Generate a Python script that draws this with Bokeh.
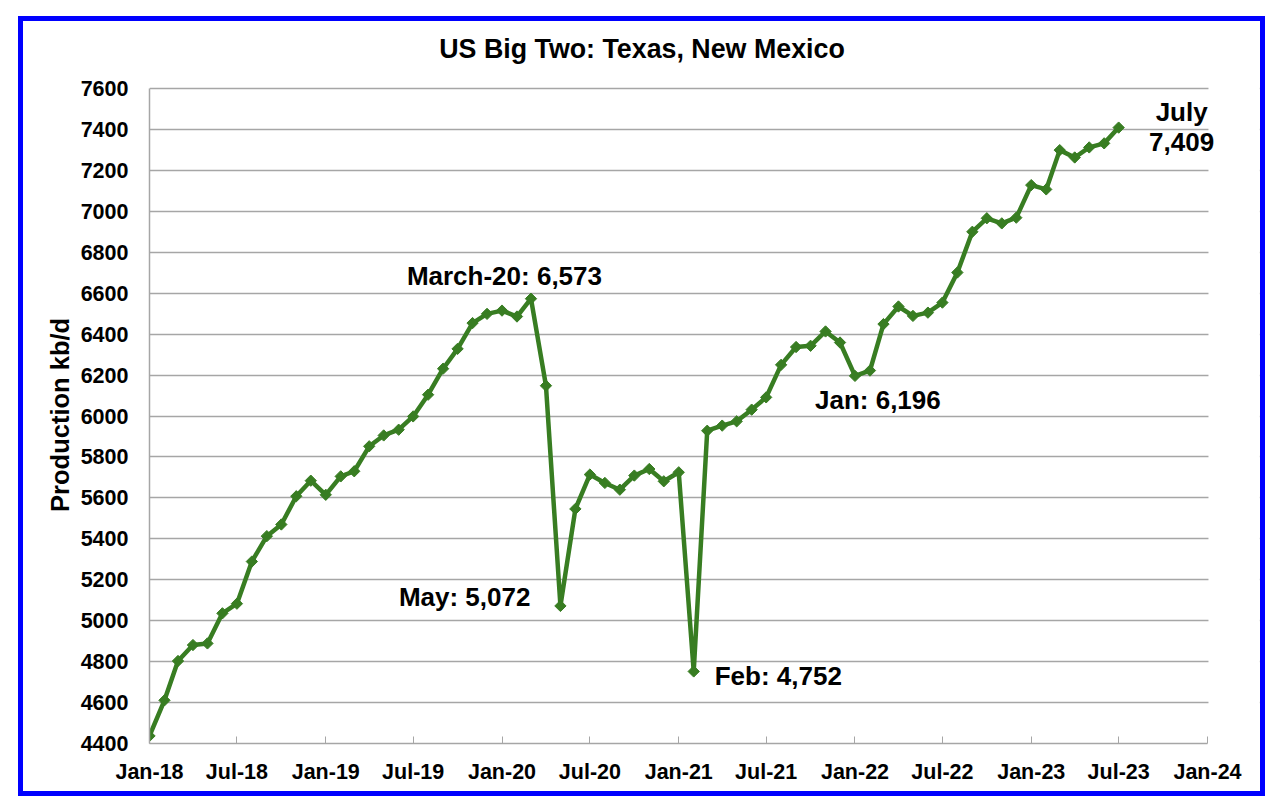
import datetime as dt
import numpy as np
from bokeh.plotting import figure
from bokeh.models import (ColumnDataSource, Label, BoxAnnotation, FixedTicker,
                          DatetimeTickFormatter, Range1d)
from bokeh.embed import file_html
from bokeh.resources import INLINE

# monthly production, Jan-18 .. Jul-23 (kb/d)
production = [
    4437, 4611, 4803, 4881, 4889, 5036, 5083, 5289, 5413, 5470, 5608, 5684,   # 2018
    5615, 5705, 5730, 5852, 5905, 5933, 5998, 6104, 6231, 6328, 6454, 6499,   # 2019
    6515, 6486, 6573, 6148, 5072, 5546, 5714, 5673, 5640, 5709, 5741, 5681,   # 2020
    5725, 4752, 5928, 5953, 5974, 6031, 6091, 6250, 6337, 6343, 6413, 6359,   # 2021
    6196, 6222, 6449, 6535, 6489, 6505, 6554, 6701, 6900, 6966, 6941, 6969,   # 2022
    7128, 7107, 7299, 7263, 7312, 7332, 7409,                                 # 2023
]
months = [dt.datetime(2018 + i // 12, i % 12 + 1, 1) for i in range(len(production))]

tick_labels = ["Jan-18", "Jul-18", "Jan-19", "Jul-19", "Jan-20", "Jul-20", "Jan-21",
               "Jul-21", "Jan-22", "Jul-22", "Jan-23", "Jul-23", "Jan-24"]
y_ticks = list(range(4400, 7601, 200))

EPOCH = dt.datetime(1970, 1, 1)


def ms(d):
    return (d - EPOCH).total_seconds() * 1000.0


tick_dates = [dt.datetime.strptime(t, "%b-%y") for t in tick_labels]
tick_ms = [ms(d) for d in tick_dates]

GREEN = "#387D22"
GRID = "#A6A6A6"
FONT = "Liberation Sans"

# geometry: the figure is the white box inside the blue frame; the data frame
# runs on past the axes (right and top) so the notes and title are not clipped
W, H = 1237, 770
BL, BR, BT, BB = 126, 1, 1, 48
AXIS_W, AXIS_H = 1058, 655             # pixels spanned by the x and y axes
frame_w = W - BL - BR
frame_h = H - BT - BB
x_span = tick_ms[-1] - tick_ms[0]
y_span = y_ticks[-1] - y_ticks[0]
x_end = tick_ms[0] + x_span * frame_w / AXIS_W
y_end = y_ticks[0] + y_span * frame_h / AXIS_H

src = ColumnDataSource(data=dict(month=months, prod=production))

p = figure(width=W, height=H, x_axis_type="datetime",
           x_range=Range1d(tick_ms[0], x_end),
           y_range=Range1d(y_ticks[0], y_end),
           output_backend="svg", toolbar_location=None,
           min_border_left=BL, min_border_right=BR,
           min_border_top=BT, min_border_bottom=BB,
           margin=(21, 0, 0, 23),
           styles={"outline": "5px solid blue", "outline-offset": "0px"})
p.background_fill_color = "white"
p.border_fill_color = "white"
p.outline_line_color = None

# x axis
p.xaxis.ticker = FixedTicker(ticks=tick_ms)
p.xaxis.formatter = DatetimeTickFormatter(days="%b-%y", months="%b-%y", years="%b-%y")
p.xaxis.bounds = (tick_ms[0], tick_ms[-1])
p.xaxis.major_tick_in = 7
p.xaxis.major_tick_out = 0
p.xaxis.minor_tick_line_color = None
p.xaxis.major_tick_line_color = GRID
p.xaxis.axis_line_color = GRID
p.xaxis.axis_line_width = 1.5
p.xaxis.major_label_text_font = FONT
p.xaxis.major_label_text_font_size = "21.5px"
p.xaxis.major_label_text_font_style = "bold"
p.xaxis.major_label_text_color = "black"
p.xaxis.major_label_standoff = 16
p.xgrid.visible = False

# y axis
p.yaxis.ticker = FixedTicker(ticks=y_ticks)
p.yaxis.bounds = (y_ticks[0], y_ticks[-1])
p.yaxis.major_tick_in = 0
p.yaxis.major_tick_out = 0
p.yaxis.minor_tick_line_color = None
p.yaxis.axis_line_color = GRID
p.yaxis.axis_line_width = 1.5
p.yaxis.major_label_text_font = FONT
p.yaxis.major_label_text_font_size = "21.5px"
p.yaxis.major_label_text_font_style = "bold"
p.yaxis.major_label_text_color = "black"
p.yaxis.major_label_standoff = 21
# the label is centred on the whole frame; trailing no-break spaces move it
# down to the middle of the 4400-7600 axis
p.yaxis.axis_label = "Production kb/d" + "\u00a0" * 9
p.yaxis.axis_label_text_font = FONT
p.yaxis.axis_label_text_font_size = "25.5px"
p.yaxis.axis_label_text_font_style = "bold"
p.yaxis.axis_label_text_color = "black"
p.yaxis.axis_label_standoff = 4
p.ygrid.grid_line_color = GRID
p.ygrid.grid_line_width = 1.5

# series
p.line(x="month", y="prod", source=src, line_width=4.5, color=GREEN)
p.scatter(x="month", y="prod", source=src, marker="square", angle=np.pi / 4,
          size=8, color=GREEN)

# hide gridlines right of the last tick
p.add_layout(BoxAnnotation(left=tick_ms[-1] + 2 * 86400000, fill_color="white",
                           fill_alpha=1, line_color=None))

# title, placed in the frame area above the top gridline
p.add_layout(Label(x=tick_ms[0] + x_span * 492.5 / AXIS_W,
                   y=y_ticks[-1] + y_span * 39.5 / AXIS_H,
                   text="US Big Two: Texas, New Mexico", text_align="center",
                   text_baseline="alphabetic", text_font=FONT,
                   text_font_size="26.8px", text_font_style="bold",
                   text_color="black"))


def note(i, text, align, dx, dy):
    p.add_layout(Label(x=ms(months[i]), y=production[i], text=text,
                       x_offset=dx, y_offset=dy, text_align=align,
                       text_baseline="alphabetic", text_font=FONT,
                       text_font_size="26px", text_font_style="bold",
                       text_color="black"))


i_peak = months.index(dt.datetime(2020, 3, 1))
i_may = months.index(dt.datetime(2020, 5, 1))
i_feb = months.index(dt.datetime(2021, 2, 1))
i_jan = months.index(dt.datetime(2022, 1, 1))
i_last = len(production) - 1

note(i_peak, f"March-20: {production[i_peak]:,}", "right", 71, 23)
note(i_may, f"May: {production[i_may]:,}", "right", -30, 9)
note(i_feb, f"Feb: {production[i_feb]:,}", "left", 21, -5)
note(i_jan, f"Jan: {production[i_jan]:,}", "left", -40, -24)
note(i_last, "July", "center", 63, 16)
note(i_last, f"{production[i_last]:,}", "center", 63, -14)

open("out.html", "w").write(file_html(p, INLINE))
